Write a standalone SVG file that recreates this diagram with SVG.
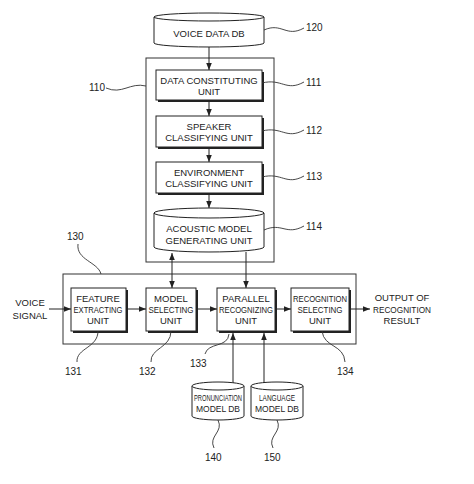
<svg xmlns="http://www.w3.org/2000/svg" width="474" height="484" viewBox="0 0 474 484">
<defs>
<marker id="ah" viewBox="0 0 10 10" refX="10" refY="5" markerWidth="7" markerHeight="7" markerUnits="userSpaceOnUse" orient="auto-start-reverse"><path d="M0,1 L10,5 L0,9 Z" fill="#222"/></marker>
<style>
text{font-family:"Liberation Sans",Arial,sans-serif;font-size:9.5px;fill:#222;text-anchor:middle}
.lbl{text-anchor:start;font-size:10px}
.sm{font-size:8.5px}
.box{fill:#fff;stroke:#222;stroke-width:1}
.sh{fill:#222}
.frame{fill:none;stroke:#333;stroke-width:1}
.ln{fill:none;stroke:#222;stroke-width:1}
.lead{fill:none;stroke:#333;stroke-width:0.9}
</style>
</defs>
<rect width="474" height="484" fill="#fff"/>
<g id="frame110"><rect class="frame" x="146" y="58" width="128" height="204"/></g>
<g id="frame130"><rect class="frame" x="63" y="274" width="293" height="70"/></g>
<g id="db120">
<path class="box" d="M154,17 L154,43 A55,4 0 0 0 264,43 L264,17"/>
<ellipse class="box" cx="209" cy="17" rx="55" ry="4"/>
<text x="209" y="37">VOICE DATA DB</text>
</g>
<g id="n111">
<rect class="sh" x="158" y="72" width="106" height="30"/>
<rect class="box" x="156" y="70" width="106" height="30"/>
<text x="209" y="84">DATA CONSTITUTING</text><text x="209" y="95">UNIT</text>
</g>
<g id="n112">
<rect class="sh" x="158" y="118" width="106" height="31"/>
<rect class="box" x="156" y="116" width="106" height="31"/>
<text x="209" y="130">SPEAKER</text><text x="209" y="141">CLASSIFYING UNIT</text>
</g>
<g id="n113">
<rect class="sh" x="158" y="164" width="106" height="31"/>
<rect class="box" x="156" y="162" width="106" height="31"/>
<text x="209" y="176">ENVIRONMENT</text><text x="209" y="187">CLASSIFYING UNIT</text>
</g>
<g id="n114">
<path class="box" d="M154,213 L154,247 A55,5 0 0 0 264,247 L264,213"/>
<ellipse class="box" cx="209" cy="213" rx="55" ry="5"/>
<text x="209" y="232">ACOUSTIC MODEL</text><text x="209" y="244">GENERATING UNIT</text>
</g>
<g id="n131">
<rect class="sh" x="73" y="290" width="55" height="43"/>
<rect class="box" x="71" y="288" width="55" height="43"/>
<text x="98" y="302">FEATURE</text><text x="98" y="313" textLength="49" lengthAdjust="spacingAndGlyphs">EXTRACTING</text><text x="98" y="324">UNIT</text>
</g>
<g id="n132">
<rect class="sh" x="148" y="290" width="50" height="43"/>
<rect class="box" x="146" y="288" width="50" height="43"/>
<text x="171" y="302">MODEL</text><text x="171" y="313" textLength="45" lengthAdjust="spacingAndGlyphs">SELECTING</text><text x="171" y="324">UNIT</text>
</g>
<g id="n133">
<rect class="sh" x="219" y="290" width="58" height="43"/>
<rect class="box" x="217" y="288" width="58" height="43"/>
<text x="246" y="302">PARALLEL</text><text x="246" y="313" textLength="54" lengthAdjust="spacingAndGlyphs">RECOGNIZING</text><text x="246" y="324">UNIT</text>
</g>
<g id="n134">
<rect class="sh" x="293" y="290" width="58" height="43"/>
<rect class="box" x="291" y="288" width="58" height="43"/>
<text x="320" y="302" textLength="54" lengthAdjust="spacingAndGlyphs">RECOGNITION</text><text x="320" y="313" textLength="45" lengthAdjust="spacingAndGlyphs">SELECTING</text><text x="320" y="324">UNIT</text>
</g>
<g id="db140">
<path class="box" d="M192,386 L192,416 A26,4 0 0 0 244,416 L244,386"/>
<ellipse class="box" cx="218" cy="386" rx="26" ry="4"/>
<text class="sm" x="218" y="401" textLength="48" lengthAdjust="spacingAndGlyphs">PRONUNCIATION</text><text class="sm" x="218" y="412">MODEL DB</text>
</g>
<g id="db150">
<path class="box" d="M251,386 L251,416 A26,4 0 0 0 303,416 L303,386"/>
<ellipse class="box" cx="277" cy="386" rx="26" ry="4"/>
<text class="sm" x="277" y="401" textLength="36" lengthAdjust="spacingAndGlyphs">LANGUAGE</text><text class="sm" x="277" y="412">MODEL DB</text>
</g>
<g id="texts">
<text x="30" y="306">VOICE</text><text x="30" y="319">SIGNAL</text>
<text x="402" y="301">OUTPUT OF</text><text x="402" y="313" textLength="58" lengthAdjust="spacingAndGlyphs">RECOGNITION</text><text x="402" y="324">RESULT</text>
</g>
<g id="connectors">
<line class="ln" x1="209" y1="47" x2="209" y2="70" marker-end="url(#ah)"/>
<line class="ln" x1="209" y1="100" x2="209" y2="116" marker-end="url(#ah)"/>
<line class="ln" x1="209" y1="147" x2="209" y2="162" marker-end="url(#ah)"/>
<line class="ln" x1="209" y1="193" x2="209" y2="208" marker-end="url(#ah)"/>
<line class="ln" x1="172" y1="253" x2="172" y2="288" marker-start="url(#ah)" marker-end="url(#ah)"/>
<line class="ln" x1="246" y1="252" x2="246" y2="288" marker-end="url(#ah)"/>
<line class="ln" x1="49" y1="309" x2="71" y2="309" marker-end="url(#ah)"/>
<line class="ln" x1="128" y1="309" x2="146" y2="309" marker-end="url(#ah)"/>
<line class="ln" x1="198" y1="309" x2="217" y2="309" marker-end="url(#ah)"/>
<line class="ln" x1="277" y1="309" x2="291" y2="309" marker-end="url(#ah)"/>
<line class="ln" x1="351" y1="309" x2="370" y2="309" marker-end="url(#ah)"/>
<line class="ln" x1="233" y1="383" x2="233" y2="333" marker-end="url(#ah)"/>
<line class="ln" x1="264" y1="383" x2="264" y2="333" marker-end="url(#ah)"/>
</g>
<g id="leaders">
<path class="lead" d="M264,30 C282,22 286,38 304,28"/>
<path class="lead" d="M262,83 C282,78 286,92 304,82"/>
<path class="lead" d="M262,131 C282,126 286,140 304,130"/>
<path class="lead" d="M262,177 C282,172 286,186 304,176"/>
<path class="lead" d="M264,230 C282,222 286,236 304,226"/>
<path class="lead" d="M146,86 C130,82 122,95 106,88"/>
<path class="lead" d="M78,244 C76,260 98,262 101,274"/>
<path class="lead" d="M98,331 C98,348 76,348 77,362"/>
<path class="lead" d="M171,331 C171,348 150,348 151,362"/>
<path class="lead" d="M229,334 C228,348 208,342 205,354"/>
<path class="lead" d="M322,331 C324,348 344,344 345,362"/>
<path class="lead" d="M218,420 C224,432 208,436 214,448"/>
<path class="lead" d="M277,420 C283,432 267,436 273,448"/>
</g>
<g id="labels">
<text class="lbl" x="306" y="31">120</text>
<text class="lbl" x="306" y="86">111</text>
<text class="lbl" x="306" y="134">112</text>
<text class="lbl" x="306" y="180">113</text>
<text class="lbl" x="306" y="230">114</text>
<text class="lbl" x="89" y="91">110</text>
<text class="lbl" x="67" y="240">130</text>
<text class="lbl" x="65" y="375">131</text>
<text class="lbl" x="139" y="375">132</text>
<text class="lbl" x="190" y="367">133</text>
<text class="lbl" x="337" y="375">134</text>
<text class="lbl" x="205" y="461">140</text>
<text class="lbl" x="264" y="461">150</text>
</g>
</svg>
